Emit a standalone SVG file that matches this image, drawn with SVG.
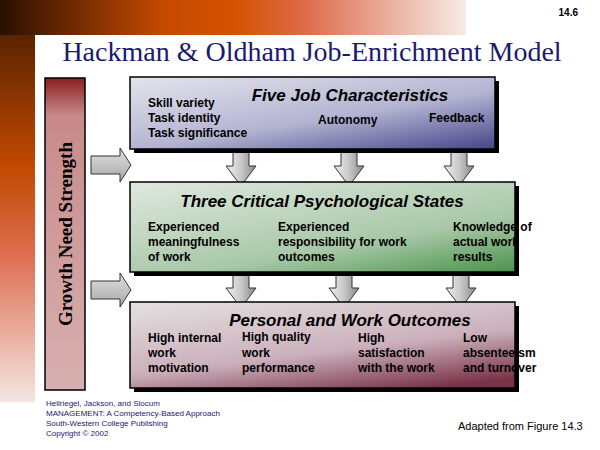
<svg xmlns="http://www.w3.org/2000/svg" width="600" height="450" viewBox="0 0 600 450">
<defs>
<linearGradient id="top" x1="0" x2="1" y1="0" y2="0"><stop offset="0" stop-color="#2a1000"/><stop offset="0.35" stop-color="#c44a00"/><stop offset="0.5" stop-color="#d45200"/><stop offset="0.65" stop-color="#dd6a48"/><stop offset="1" stop-color="#f6ece8"/></linearGradient>
<linearGradient id="side" x1="0" x2="0" y1="0" y2="1"><stop offset="0" stop-color="#5a2400"/><stop offset="0.35" stop-color="#c04800"/><stop offset="0.6" stop-color="#dd6e50"/><stop offset="1" stop-color="#f4e6e2"/></linearGradient>
<linearGradient id="gns" x1="0" x2="0" y1="0" y2="1"><stop offset="0" stop-color="#8a1f1f"/><stop offset="0.12" stop-color="#c88a8a"/><stop offset="1" stop-color="#d8b0b0"/></linearGradient>
<linearGradient id="b1" x1="0" x2="1" y1="0" y2="1.2"><stop offset="0" stop-color="#e4e4ec"/><stop offset="0.5" stop-color="#b4b4d2"/><stop offset="1" stop-color="#2a2a78"/></linearGradient>
<linearGradient id="b2" x1="0" x2="1" y1="0" y2="1.3"><stop offset="0" stop-color="#e0e8e0"/><stop offset="0.55" stop-color="#a8c8a8"/><stop offset="1" stop-color="#1e7a1e"/></linearGradient>
<linearGradient id="b3" x1="0" x2="0.6" y1="0" y2="1.1"><stop offset="0" stop-color="#e4e0e0"/><stop offset="0.6" stop-color="#cbb0bc"/><stop offset="1" stop-color="#7a3448"/></linearGradient>
<linearGradient id="arr" x1="0" x2="1" y1="0" y2="0"><stop offset="0" stop-color="#f0f0f0"/><stop offset="0.5" stop-color="#c8c8c8"/><stop offset="1" stop-color="#888"/></linearGradient>
<linearGradient id="arrh" x1="0" x2="0" y1="0" y2="1"><stop offset="0" stop-color="#e0e0e0"/><stop offset="1" stop-color="#a8a8a8"/></linearGradient>
</defs>
<style>
.t{font-family:"Liberation Sans",Arial,sans-serif;font-weight:bold;font-size:12px;fill:#000}
.h{font-family:"Liberation Sans",Arial,sans-serif;font-weight:bold;font-style:italic;font-size:17px;fill:#000}
.box{stroke:#000;stroke-width:1.5}
.ar{stroke:#333;stroke-width:1}
.cr{font-family:"Liberation Sans",Arial,sans-serif;font-size:8px;fill:#1a1a6e}
</style>
<rect x="0" y="0" width="466" height="35" fill="url(#top)"/>
<rect x="0" y="35" width="35" height="367" fill="url(#side)"/>
<text x="578" y="16" text-anchor="end" style="font-family:'Liberation Sans',Arial,sans-serif;font-weight:bold;font-size:10px">14.6</text>
<text x="312" y="61" text-anchor="middle" style="font-family:'Liberation Serif','Times New Roman',serif;font-size:28px;fill:#1a1a6e">Hackman &amp; Oldham  Job-Enrichment Model</text>
<g id="growth">
<rect x="45" y="78" width="40" height="312" fill="url(#gns)" stroke="#000" stroke-width="1.5"/>
<text transform="translate(72,234) rotate(-90)" text-anchor="middle" style="font-family:'Liberation Serif','Times New Roman',serif;font-weight:bold;font-size:19px">Growth Need Strength</text>
</g>
<g id="connectors">
<path class="ar" d="M91 156 H120 V148 L131 165 L120 182 V174 H91 Z" fill="url(#arrh)"/>
<path class="ar" d="M91 281 H120 V273 L131 290 L120 307 V299 H91 Z" fill="url(#arrh)"/>
<path class="ar" d="M233 148 V166 H226 L241 186 L256 166 H249 V148 Z" fill="url(#arr)"/>
<path class="ar" d="M341 148 V166 H334 L349 186 L364 166 H357 V148 Z" fill="url(#arr)"/>
<path class="ar" d="M451 148 V166 H444 L459 186 L474 166 H467 V148 Z" fill="url(#arr)"/>
<path class="ar" d="M233 270 V288 H226 L241 308 L256 288 H249 V270 Z" fill="url(#arr)"/>
<path class="ar" d="M336 270 V288 H329 L344 308 L359 288 H352 V270 Z" fill="url(#arr)"/>
<path class="ar" d="M453 270 V288 H446 L461 308 L476 288 H469 V270 Z" fill="url(#arr)"/>
</g>
<g id="five">
<rect x="134" y="81" width="365" height="72" fill="#000"/>
<rect class="box" x="130" y="77" width="365" height="72" fill="url(#b1)"/>
<text class="h" x="350" y="101" text-anchor="middle">Five Job Characteristics</text>
<text class="t" x="148" y="107">Skill variety</text>
<text class="t" x="148" y="122">Task identity</text>
<text class="t" x="148" y="137">Task significance</text>
<text class="t" x="318" y="124">Autonomy</text>
<text class="t" x="429" y="122">Feedback</text>
</g>
<g id="three">
<rect x="134" y="186" width="385" height="90" fill="#000"/>
<rect class="box" x="130" y="182" width="385" height="90" fill="url(#b2)"/>
<text class="h" x="322" y="207" text-anchor="middle">Three Critical Psychological States</text>
<text class="t" x="148" y="231">Experienced</text>
<text class="t" x="148" y="246">meaningfulness</text>
<text class="t" x="148" y="261">of work</text>
<text class="t" x="278" y="231">Experienced</text>
<text class="t" x="278" y="246">responsibility for work</text>
<text class="t" x="278" y="261">outcomes</text>
<text class="t" x="453" y="231">Knowledge of</text>
<text class="t" x="453" y="246">actual work</text>
<text class="t" x="453" y="261">results</text>
</g>
<g id="outcomes">
<rect x="134" y="306" width="385" height="86" fill="#000"/>
<rect class="box" x="130" y="302" width="385" height="86" fill="url(#b3)"/>
<text class="h" x="350" y="326" text-anchor="middle">Personal and Work Outcomes</text>
<text class="t" x="148" y="342">High internal</text>
<text class="t" x="148" y="357">work</text>
<text class="t" x="148" y="372">motivation</text>
<text class="t" x="242" y="341">High quality</text>
<text class="t" x="242" y="357">work</text>
<text class="t" x="242" y="372">performance</text>
<text class="t" x="358" y="342">High</text>
<text class="t" x="358" y="357">satisfaction</text>
<text class="t" x="358" y="372">with the work</text>
<text class="t" x="463" y="342">Low</text>
<text class="t" x="463" y="357">absenteeism</text>
<text class="t" x="463" y="372">and turnover</text>
</g>
<text class="cr" x="46" y="406">Hellriegel, Jackson, and Slocum</text>
<text class="cr" x="46" y="416">MANAGEMENT: A Competency-Based Approach</text>
<text class="cr" x="46" y="426">South-Western College Publishing</text>
<text class="cr" x="46" y="436">Copyright © 2002</text>
<text x="458" y="430" style="font-family:'Liberation Sans',Arial,sans-serif;font-size:11px">Adapted from Figure 14.3</text>
</svg>
